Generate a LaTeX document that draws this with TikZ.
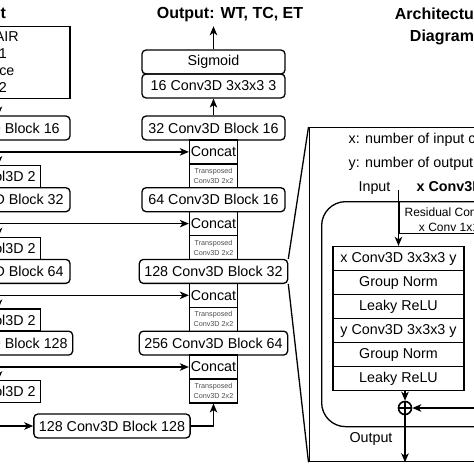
\documentclass[tikz,border=0pt]{standalone}
\usepackage{fontspec}
\setmainfont{Liberation Sans}
\usepackage{tikz}
\usetikzlibrary{calc,arrows.meta}
\newcommand{\txtbig}{\fontsize{14.3}{17}\selectfont}
\newcommand{\txtsmall}{\fontsize{12}{15}\selectfont}
\newcommand{\txttiny}{\fontsize{7.2}{10}\selectfont}
\tikzset{
  heading/.style={font=\bfseries\fontsize{16}{22}\selectfont, align=center},
  block/.style={draw, rounded corners=4pt, minimum width=143pt, minimum height=23.9pt, inner xsep=5pt, inner ysep=0pt, font=\txtbig},
  inbox/.style={draw, minimum width=143pt, minimum height=72pt, align=center, font=\txtbig},
  pool/.style={draw, minimum width=96pt, minimum height=22pt, inner xsep=5pt, inner ysep=0pt, font=\txtbig},
  catbox/.style={draw, minimum width=48pt, minimum height=23.9pt, inner sep=0pt, font=\txtbig},
  upbox/.style={catbox, font=\txttiny, text=black!70, align=center},
  layer/.style={draw, minimum width=131pt, minimum height=24pt, inner sep=0pt, font=\txtbig},
  note/.style={inner sep=0pt, font=\txtbig},
  addnode/.style={circle, draw, line width=1.6pt, minimum size=13pt, inner sep=0pt},
  arr/.style={-{Stealth[length=9pt,width=7.5pt,inset=2.5pt]}}
}

\begin{document}
\begin{tikzpicture}[x=1pt, y=-1pt, line width=1.3pt]
		%%%%% START %%%%%
		\useasboundingbox (0,0) rectangle (474,474);
		\clip (0,0) rectangle (474,474);
		
		% encoder
		\node[heading, anchor=east, inner sep=0pt] (intitle) at (6.5,15) {Input};
		\node[inbox] (inp) at (-1.5,62.5) {FLAIR\\T1\\T1ce\\T2};
		\node[block] (enc1) at (-1.5,128) {4 Conv3D Block 16};
		\node[pool] (pool1) at (-7.3,176.7) {MaxPool3D 2};
		\node[block] (enc2) at (-1.5,199.7) {16 Conv3D Block 32};
		\node[pool] (pool2) at (-7.3,248.4) {MaxPool3D 2};
		\node[block] (enc3) at (-1.5,271.4) {32 Conv3D Block 64};
		\node[pool] (pool3) at (-7.3,320.1) {MaxPool3D 2};
		\node[block] (enc4) at (-1.5,343.1) {64 Conv3D Block 128};
		\node[pool] (pool4) at (-7.3,391.8) {MaxPool3D 2};
		\node[block] (bot) at (112,426) {128 Conv3D Block 128};
		
		% decoder
		\node[heading] (outtitle) at (230,15) {Output: WT, TC, ET};
		\node[block] (sig) at (213.5,62) {Sigmoid};
		\node[block] (head) at (213.5,86) {16 Conv3D 3x3x3 3};
		\node[block] (dec1) at (213.5,128) {32 Conv3D Block 16};
		\node[catbox] (cat1) at (213.5,151.9) {Concat};
		\node[upbox] (up1) at (213.5,175.8) {Transposed\\Conv3D 2x2};
		\node[block] (dec2) at (213.5,199.7) {64 Conv3D Block 16};
		\node[catbox] (cat2) at (213.5,223.6) {Concat};
		\node[upbox] (up2) at (213.5,247.5) {Transposed\\Conv3D 2x2};
		\node[block] (dec3) at (213.5,271.4) {128 Conv3D Block 32};
		\node[catbox] (cat3) at (213.5,295.3) {Concat};
		\node[upbox] (up3) at (213.5,319.2) {Transposed\\Conv3D 2x2};
		\node[block] (dec4) at (213.5,343.1) {256 Conv3D Block 64};
		\node[catbox] (cat4) at (213.5,367) {Concat};
		\node[upbox] (up4) at (213.5,390.9) {Transposed\\Conv3D 2x2};
		
		\draw[arr] (inp) -- (enc1);
		\draw[arr] (enc1.south) -- (enc1.south |- pool1.north);
		\draw[arr] (enc1.south |- cat1.west) -- (cat1.west);
		\draw[arr] (enc2.south) -- (enc2.south |- pool2.north);
		\draw[arr] (enc2.south |- cat2.west) -- (cat2.west);
		\draw[arr] (enc3.south) -- (enc3.south |- pool3.north);
		\draw[arr] (enc3.south |- cat3.west) -- (cat3.west);
		\draw[arr] (enc4.south) -- (enc4.south |- pool4.north);
		\draw[arr] (enc4.south |- cat4.west) -- (cat4.west);
		\draw[arr] (enc4.south |- pool4.south) |- (bot.west);
		\draw[arr] (bot.east) -| (up4.south);
		\draw[arr] (dec1.north) -- (head.south);
		\draw[arr] (sig.north) -- (sig.north |- outtitle.south);
		
		% block detail
		\node[heading] (archtitle) at (442,26) {Architecture\\Diagram};
		\node[draw, anchor=north west, minimum width=260pt, minimum height=334pt, inner sep=0pt] (detail) at (308.5,127) {};
		\draw (dec3.north east) -- (detail.north west);
		\draw (dec3.south east) -- (detail.south west);
		
		\node[note, anchor=west] (xnote) at (348,140) {x: number of input channels};
		\node[note, anchor=west] (ynote) at (348,164) {y: number of output channels};
		\node[note] (inlabel) at (374.5,188) {Input};
		\node[note, font=\bfseries\txtbig, anchor=west] (blocktitle) at (416,188) {x Conv3D Block y};
		
		\node[draw, rounded corners=24pt, anchor=north west, minimum width=227pt, minimum height=225pt, inner sep=0pt] (resblock) at (321,201) {};
		\node[draw, anchor=north west, minimum width=122pt, minimum height=32pt, inner sep=0pt] (resconv) at (399,201) {};
		\node[note, font=\txtsmall, align=center] (restext) at (460,220.5) {Residual Connection\\x Conv 1x1x1 y};
		
		\node[layer] (lay1) at (398.5,258.5) {x Conv3D 3x3x3 y};
		\node[layer] (lay2) at (398.5,282.5) {Group Norm};
		\node[layer] (lay3) at (398.5,306.5) {Leaky ReLU};
		\node[layer] (lay4) at (398.5,330.5) {y Conv3D 3x3x3 y};
		\node[layer] (lay5) at (398.5,354.5) {Group Norm};
		\node[layer] (lay6) at (398.5,378.5) {Leaky ReLU};
		
		\node[addnode] (sum) at (405,408) {};
		\draw[line width=1.6pt] (sum.north) -- (sum.south) (sum.west) -- (sum.east);
		\coordinate (resin) at (398.5,190);
		\coordinate (resback) at (480,408);
		\draw[arr] (resin) -- (lay1.north);
		\draw[arr] (lay6.south -| sum.north) -- (sum.north);
		\draw[arr] (resback) -- (sum.east);
		\draw[arr] (sum.south) -- (sum.south |- detail.south);
		\node[note] (outlabel) at (371,439) {Output};
		
		%%%%% END %%%%%
\end{tikzpicture}
\end{document}
